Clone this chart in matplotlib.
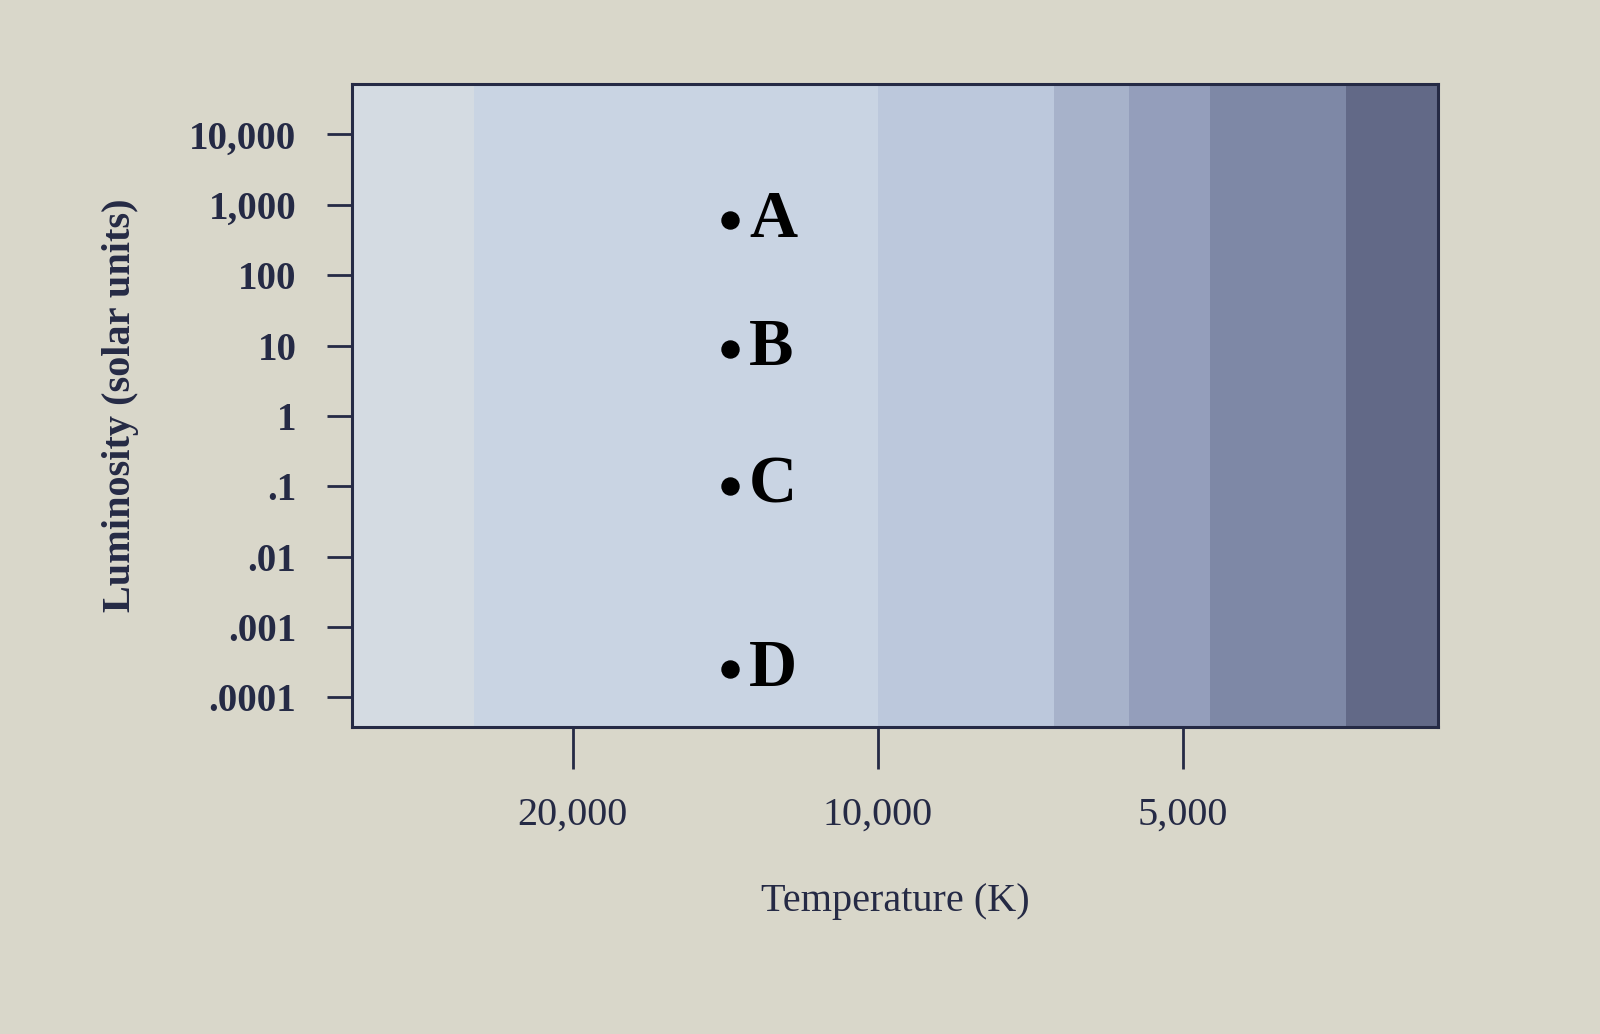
import matplotlib.pyplot as plt
from matplotlib.ticker import NullLocator

# ---------------------------------------------------
# DATOS
# ---------------------------------------------------
star_names = ["A", "B", "C", "D"]
star_temps = [14000, 14000, 14000, 14000]
star_lums = [600, 9, 0.1, 0.00025]

lum_ticks = [10000, 1000, 100, 10, 1, 0.1, 0.01, 0.001, 0.0001]
lum_labels = ["10,000", "1,000", "100", "10", "1", ".1", ".01", ".001", ".0001"]

temp_ticks = [20000, 10000, 5000]
temp_labels = ["20,000", "10,000", "5,000"]

# vertical colour bands (temperature edges, hot -> cool)
band_edges = [33000, 25000, 10000, 6700, 5650, 4700, 3450, 2800]
band_colors = ["#d4dbe2", "#c9d4e3", "#bcc8dc", "#a7b2ca", "#949ebb", "#7e88a6", "#626987"]

INK = "#252a45"
plt.rcParams["font.family"] = ["Liberation Serif", "DejaVu Serif"]

fig = plt.figure(figsize=(16, 10.34), dpi=100, facecolor="#d9d7ca")
ax = fig.add_axes([0.22, 0.297, 0.679, 0.622])

for i, c in enumerate(band_colors):
    ax.axvspan(band_edges[i], band_edges[i + 1], color=c, lw=0, zorder=0)

ax.scatter(star_temps, star_lums, s=150, color="black", zorder=3)
for name, t, l in zip(star_names, star_temps, star_lums):
    ax.annotate(name, (t, l), xytext=(14, 0), textcoords="offset points",
                ha="left", va="center", fontsize=48, fontweight="bold",
                color="black", zorder=4)

ax.set_xscale("log")
ax.set_yscale("log")
ax.set_xlim(band_edges[0], band_edges[-1])
ax.set_ylim(10 ** -4.42, 10 ** 4.72)

ax.set_xticks(temp_ticks)
ax.set_xticklabels(temp_labels)
ax.set_yticks(lum_ticks)
ax.set_yticklabels(lum_labels)
ax.xaxis.set_minor_locator(NullLocator())
ax.yaxis.set_minor_locator(NullLocator())

ax.tick_params(axis="x", length=30, width=2, color=INK, pad=20,
               labelsize=29, labelcolor=INK)
ax.tick_params(axis="y", length=18, width=2, color=INK, pad=22,
               labelsize=28, labelcolor=INK)
for lbl in ax.get_yticklabels():
    lbl.set_fontweight("bold")

for sp in ax.spines.values():
    sp.set_color(INK)
    sp.set_linewidth(2.2)

ax.set_xlabel("Temperature (K)", fontsize=29, color=INK, labelpad=36)
ax.set_ylabel("Luminosity (solar units)", fontsize=29, color=INK,
              fontweight="bold", labelpad=36)

fig.savefig("out.png", dpi=100, facecolor=fig.get_facecolor())
